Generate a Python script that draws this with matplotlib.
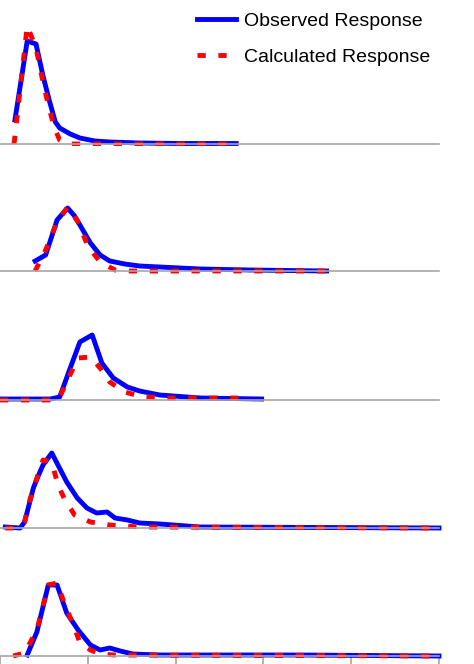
import matplotlib.pyplot as plt

plt.rcParams['font.family'] = ['Liberation Sans', 'DejaVu Sans']

# observed / calculated response for five events (time, response)
obs1_x = [1.7, 3.1, 4.1, 4.9, 5.6, 6.3, 6.8, 8.0, 9.1, 10.8, 12.5, 15.9, 20.5, 26.9]
obs1_y = [0.24, 1.03, 1.00, 0.68, 0.44, 0.22, 0.16, 0.10, 0.06, 0.03, 0.02, 0.01, 0.005, 0.005]
cal1_x = [1.6, 3.1, 4.1, 4.8, 5.5, 6.2, 6.8, 7.7, 9.1, 11.4, 15.9, 26.9]
cal1_y = [0.0, 1.18, 0.96, 0.66, 0.39, 0.16, 0.04, 0.0, 0.0, 0.0, 0.0, 0.0]

obs2_x = [4.0, 5.2, 6.5, 7.7, 8.5, 9.3, 10.3, 11.4, 12.5, 14.2, 15.9, 18.2, 22.8, 28.5, 37.2]
obs2_y = [0.10, 0.16, 0.51, 0.63, 0.55, 0.43, 0.28, 0.16, 0.10, 0.07, 0.05, 0.04, 0.02, 0.01, 0.0]
cal2_x = [4.0, 5.2, 6.5, 7.7, 8.9, 10.0, 11.4, 13.1, 14.8, 37.2]
cal2_y = [0.0, 0.21, 0.49, 0.64, 0.49, 0.25, 0.09, 0.01, 0.0, 0.0]

obs3_x = [0, 5.7, 6.8, 8.0, 9.1, 10.5, 11.6, 12.9, 14.5, 15.9, 18.2, 22.8, 29.8]
obs3_y = [0.01, 0.01, 0.03, 0.32, 0.58, 0.65, 0.37, 0.22, 0.13, 0.09, 0.05, 0.02, 0.01]
cal3_x = [0, 6.3, 6.8, 7.7, 8.9, 10.3, 11.4, 12.5, 14.2, 15.9, 18.2, 28.2]
cal3_y = [0.0, 0.0, 0.03, 0.20, 0.42, 0.43, 0.32, 0.18, 0.08, 0.04, 0.02, 0.02]

obs4_x = [0.6, 2.3, 2.8, 3.8, 4.3, 4.9, 5.9, 6.6, 7.6, 8.8, 9.9, 11.0, 12.2, 13.1, 14.5, 15.9, 18.2, 22.8, 50.0]
obs4_y = [0.01, 0.0, 0.06, 0.40, 0.51, 0.63, 0.75, 0.63, 0.46, 0.30, 0.20, 0.15, 0.16, 0.10, 0.08, 0.05, 0.04, 0.01, 0.0]
cal4_x = [0.6, 2.1, 2.8, 3.4, 4.2, 4.9, 5.9, 6.6, 7.4, 8.5, 10.3, 12.5, 15.9, 50.0]
cal4_y = [0.0, 0.0, 0.06, 0.28, 0.50, 0.68, 0.66, 0.43, 0.28, 0.13, 0.06, 0.03, 0.01, 0.0]

obs5_x = [3.1, 4.2, 5.5, 6.5, 7.6, 8.9, 10.3, 11.4, 12.5, 13.7, 15.1, 18.2, 34.2, 50.0]
obs5_y = [0.01, 0.24, 0.71, 0.71, 0.43, 0.26, 0.11, 0.06, 0.08, 0.05, 0.02, 0.01, 0.01, 0.0]
cal5_x = [1.5, 2.8, 4.2, 5.5, 6.5, 7.4, 8.5, 9.1, 10.3, 11.4, 13.1, 50.0]
cal5_y = [0.0, 0.03, 0.26, 0.71, 0.73, 0.51, 0.28, 0.13, 0.06, 0.02, 0.01, 0.0]

events = [
    (obs1_x, obs1_y, cal1_x, cal1_y),
    (obs2_x, obs2_y, cal2_x, cal2_y),
    (obs3_x, obs3_y, cal3_x, cal3_y),
    (obs4_x, obs4_y, cal4_x, cal4_y),
    (obs5_x, obs5_y, cal5_x, cal5_y),
]

W, H = 474, 664
fig = plt.figure(figsize=(W / 100, H / 100), dpi=100)

baselines = [144, 271, 400, 528, 656]   # pixel rows from top
for i, (ox, oy, cx, cy) in enumerate(events):
    ax = fig.add_axes([0, (H - baselines[i]) / H, 439 / W, 125 / H])
    l1, = ax.plot(ox, oy, color='#0000ff', lw=3.5, clip_on=False,
                  label='Observed Response')
    l2, = ax.plot(cx, cy, color='#ff0000', lw=3.5, dashes=(1.7, 2.6),
                  clip_on=False, label='Calculated Response')
    ax.set_xlim(0, 50)
    ax.set_ylim(0, 1.25)
    for s in ['top', 'left', 'right']:
        ax.spines[s].set_visible(False)
    ax.spines['bottom'].set_color('#a6a6a6')
    ax.spines['bottom'].set_linewidth(1.2)
    ax.set_yticks([])
    if i == 4:
        ax.set_xticks([0, 10, 20, 30, 40, 50])
        ax.tick_params(axis='x', direction='out', length=6, width=1.2,
                       color='#a6a6a6', labelbottom=False)
    else:
        ax.set_xticks([])

fig.legend(handles=[l1, l2], loc='upper left',
           bbox_to_anchor=(197 / W, 1 - 12 / H), frameon=False,
           fontsize=14, handlelength=2.0, handletextpad=0.4,
           labelspacing=0.95, borderpad=0, borderaxespad=0)

fig.savefig('out.png', dpi=100)
